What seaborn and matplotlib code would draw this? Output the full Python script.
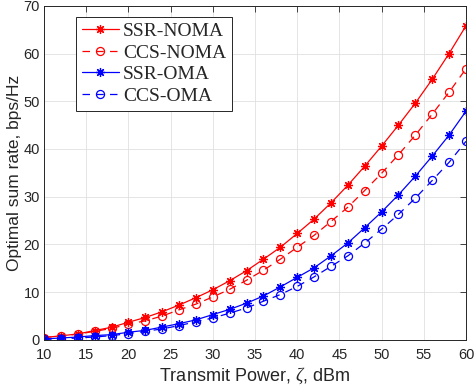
import numpy as np
import pandas as pd
import matplotlib
matplotlib.use("Agg")
import matplotlib.pyplot as plt
import seaborn as sns

# transmit power, dBm
power = list(range(10, 61, 2))

ssr_noma = [0.5, 0.85, 1.25, 1.95, 2.65, 3.7, 4.7, 5.9, 7.3, 8.85, 10.5, 12.4, 14.5,
            16.9, 19.4, 22.3, 25.3, 28.7, 32.4, 36.4, 40.6, 45.0, 49.6, 54.6, 60.0, 65.8]
ccs_noma = [0.5, 0.8, 1.2, 1.8, 2.4, 3.3, 4.0, 5.0, 6.3, 7.5, 9.0, 10.6, 12.5,
            14.6, 16.9, 19.4, 21.9, 24.8, 27.8, 31.3, 34.9, 38.8, 42.9, 47.3, 51.9, 56.8]
ssr_oma = [0.2, 0.4, 0.6, 0.9, 1.1, 1.6, 2.0, 2.7, 3.4, 4.2, 5.3, 6.4, 7.7,
           9.2, 11.1, 13.1, 15.1, 17.6, 20.3, 23.5, 26.8, 30.4, 34.3, 38.5, 42.9, 47.9]
ccs_oma = [0.1, 0.2, 0.4, 0.6, 0.9, 1.3, 1.8, 2.3, 3.0, 3.8, 4.6, 5.6, 6.7,
           8.1, 9.5, 11.2, 13.2, 15.4, 17.6, 20.3, 23.2, 26.3, 29.7, 33.4, 37.2, 41.6]

series = [
    ("SSR-NOMA", ssr_noma, "#ff0000", "-", "*"),
    ("CCS-NOMA", ccs_noma, "#ff0000", "--", "o"),
    ("SSR-OMA", ssr_oma, "#0000ff", "-", "*"),
    ("CCS-OMA", ccs_oma, "#0000ff", "--", "o"),
]

sns.set_theme(style="whitegrid")
plt.rcParams["font.family"] = ["Liberation Sans", "DejaVu Sans"]
plt.rcParams["mathtext.fontset"] = "custom"
plt.rcParams["mathtext.it"] = "Liberation Serif:italic"

fig = plt.figure(figsize=(4.74, 3.88), dpi=100)
ax = fig.add_axes([0.093, 0.124, 0.890, 0.861])

asterisk = (8, 2, 0)  # matlab-style '*'
for name, vals, col, ls, mk in series:
    dash = "-" if ls == "-" else (0, (6, 5))
    sns.lineplot(x=power, y=vals, ax=ax, color=col, linestyle=dash, linewidth=0.9,
                 marker=asterisk if mk == "*" else "o",
                 markersize=6.5 if mk == "*" else 5.8,
                 markerfacecolor="none" if mk == "o" else col,
                 markeredgecolor=col, markeredgewidth=0.9, label=name)

ax.set_xlim(10, 60)
ax.set_ylim(0, 70)
ax.set_xticks(range(10, 61, 5))
ax.set_yticks(range(0, 71, 10))
ax.set_facecolor("white")
ax.grid(True, color="#e0e0e0", linewidth=0.6)
for s in ax.spines.values():
    s.set_color("#262626")
    s.set_linewidth(0.7)
ax.tick_params(direction="in", top=True, right=True, length=4, width=0.6,
               labelsize=10.5, colors="#262626")
ax.tick_params(axis="x", pad=6)
ax.tick_params(axis="y", pad=3)
ax.set_xlabel(r"Transmit Power, $\zeta$, dBm", fontsize=13, color="#262626", labelpad=2)
ax.set_ylabel("Optimal sum rate, bps/Hz", fontsize=12.5, color="#262626", labelpad=1)

leg = ax.legend(loc="upper left", bbox_to_anchor=(0.076, 0.967), frameon=True,
                fancybox=False, edgecolor="#262626", framealpha=1,
                prop={"family": "Liberation Serif", "size": 14},
                handlelength=1.9, handletextpad=0.2, labelspacing=0.2,
                borderpad=0.3, borderaxespad=0)
leg.get_frame().set_linewidth(0.7)

fig.savefig("out.png", dpi=100)
